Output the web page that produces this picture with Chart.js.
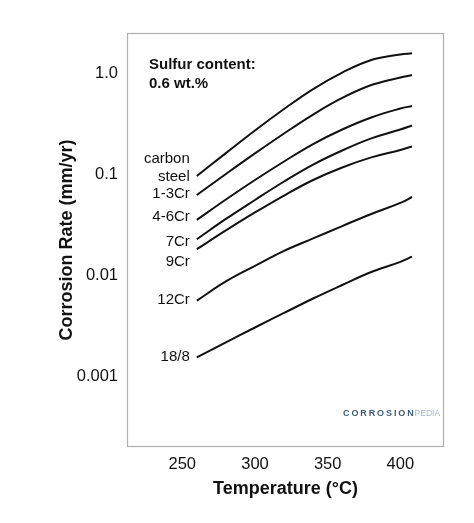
<!DOCTYPE html>
<html>
<head>
<meta charset="utf-8">
<script src="https://cdn.jsdelivr.net/npm/chart.js@4/dist/chart.umd.min.js"></script>
<style>
  html, body { margin: 0; padding: 0; background: #fff; }
  #wrap { width: 474px; height: 523px; }
</style>
</head>
<body>
<div id="wrap"><canvas id="c" width="474" height="523"></canvas></div>
<script>
// ---- data ----
const temps = [260, 280, 300, 320, 340, 360, 380, 400, 408];
const carbonSteel = [0.0955, 0.161, 0.270, 0.440, 0.694, 1.01, 1.345, 1.525, 1.567];
const cr1to3 = [0.0619, 0.100, 0.160, 0.252, 0.388, 0.566, 0.760, 0.903, 0.955];
const cr4to6 = [0.0351, 0.0559, 0.0872, 0.133, 0.198, 0.276, 0.363, 0.445, 0.471];
const cr7 = [0.0226, 0.0359, 0.0553, 0.0843, 0.124, 0.171, 0.225, 0.276, 0.302];
const cr9 = [0.0180, 0.0276, 0.0416, 0.0612, 0.0872, 0.116, 0.146, 0.173, 0.187];
const cr12 = [0.00557, 0.00863, 0.0123, 0.0173, 0.0230, 0.0305, 0.0402, 0.0517, 0.0592];
const ss18_8 = [0.00153, 0.00215, 0.00302, 0.00421, 0.00585, 0.00796, 0.0107, 0.0135, 0.0152];

const seriesNames = [["carbon", "steel"], ["1-3Cr"], ["4-6Cr"], ["7Cr"], ["9Cr"], ["12Cr"], ["18/8"]];
const seriesValues = [carbonSteel, cr1to3, cr4to6, cr7, cr9, cr12, ss18_8];

const xTicks = [250, 300, 350, 400];
const yTicks = [0.001, 0.01, 0.1, 1];
const yTickLabels = ["0.001", "0.01", "0.1", "1.0"];
const noteLines = ["Sulfur content:", "0.6 wt.%"];

// ---- chart ----
const FONT = "'Liberation Sans', Arial, Helvetica, sans-serif";

// vertical nudges of the curve labels relative to each curve's first point (styling)
const labelDy = [[-17, 1], [-1], [-3], [3], [13], [-1], [0]];

const decorPlugin = {
  id: 'decor',
  afterDraw(chart) {
    const ctx = chart.ctx;
    const a = chart.chartArea;
    ctx.save();
    // frame
    ctx.strokeStyle = '#b0b0b0';
    ctx.lineWidth = 1.2;
    ctx.strokeRect(a.left + 0.5, a.top + 0.5, a.right - a.left - 1, a.bottom - a.top - 1);

    // curve labels
    ctx.fillStyle = '#111';
    ctx.font = "15px " + FONT;
    ctx.textAlign = 'right';
    ctx.textBaseline = 'middle';
    chart.data.datasets.forEach((ds, i) => {
      const meta = chart.getDatasetMeta(i);
      const p0 = meta.data[0];
      seriesNames[i].forEach((t, j) => {
        ctx.fillText(t, p0.x - 7, p0.y + labelDy[i][j]);
      });
    });

    // note
    ctx.font = "bold 15px " + FONT;
    ctx.textAlign = 'left';
    ctx.fillText(noteLines[0], a.left + 22, a.top + 32);
    ctx.fillText(noteLines[1], a.left + 22, a.top + 51);

    // watermark
    ctx.font = "bold 9px " + FONT;
    ctx.letterSpacing = '1.9px';
    ctx.textBaseline = 'middle';
    const wx = a.left + 216, wy = a.bottom - 33;
    ctx.fillStyle = '#3f5d72';
    ctx.fillText('CORROSION', wx, wy);
    const w1 = ctx.measureText('CORROSION').width;
    ctx.font = "8.5px " + FONT;
    ctx.letterSpacing = '0px';
    ctx.fillStyle = '#a9bac8';
    ctx.fillText('PEDIA', wx + w1 - 1, wy);
    ctx.restore();
  }
};

const datasets = seriesValues.map((vals, i) => ({
  label: seriesNames[i].join(' '),
  data: temps.map((t, k) => ({ x: t, y: vals[k] })),
  borderColor: '#111',
  borderWidth: 2,
  pointRadius: 0,
  fill: false,
  tension: 0.4
}));

new Chart(document.getElementById('c'), {
  type: 'line',
  data: { datasets },
  plugins: [decorPlugin],
  options: {
    responsive: false,
    animation: false,
    layout: { padding: { top: 33, right: 30, left: 0, bottom: 0 } },
    plugins: { legend: { display: false }, tooltip: { enabled: false } },
    scales: {
      x: {
        type: 'linear',
        min: 212,
        max: 430,
        grid: { display: false, drawTicks: false },
        border: { display: false },
        afterBuildTicks(scale) { scale.ticks = xTicks.map(v => ({ value: v })); },
        afterFit(scale) { scale.height = 76; },
        ticks: {
          padding: 8,
          color: '#111',
          font: { family: FONT, size: 16.5 },
          callback: (v) => String(v)
        },
        title: {
          display: true,
          text: 'Temperature (°C)',
          color: '#111',
          font: { family: FONT, size: 18, weight: 'bold' },
          padding: { top: 0, bottom: 23 }
        }
      },
      y: {
        type: 'logarithmic',
        min: 0.000198,
        max: 2.49,
        grid: { display: false, drawTicks: false },
        border: { display: false },
        afterBuildTicks(scale) { scale.ticks = yTicks.map(v => ({ value: v })); },
        afterFit(scale) { scale.width = 127; },
        ticks: {
          padding: 9,
          color: '#111',
          font: { family: FONT, size: 16.5 },
          autoSkip: false,
          callback: (v) => {
            const i = yTicks.findIndex(t => Math.abs(t - v) / t < 1e-6);
            return i >= 0 ? yTickLabels[i] : '';
          }
        },
        title: {
          display: true,
          text: 'Corrosion Rate (mm/yr)',
          color: '#111',
          font: { family: FONT, size: 18, weight: 'bold' },
          padding: { top: 56, bottom: 0 }
        }
      }
    }
  }
});
</script>
</body>
</html>
